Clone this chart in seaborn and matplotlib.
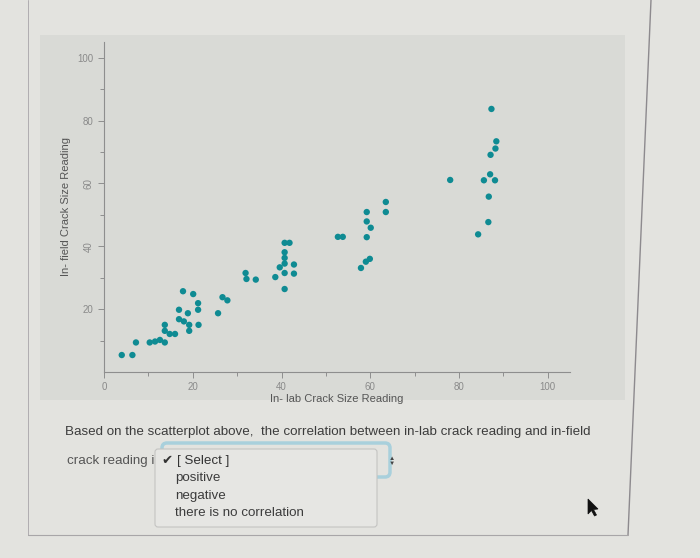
import numpy as np
import pandas as pd
import seaborn as sns
import matplotlib.pyplot as plt
from matplotlib.patches import Rectangle, FancyBboxPatch, Polygon

# In-lab vs in-field crack size readings
lab_reading = [4.0, 6.4, 7.2, 10.3, 11.5, 12.6, 13.7, 13.7, 13.7, 14.8, 16.0,
               16.9, 16.9, 17.8, 18.0, 18.9, 19.2, 19.2, 20.1, 21.2, 21.2, 21.3,
               25.7, 26.7, 27.8, 31.9, 32.1, 34.2, 38.6, 40.7, 41.8, 40.7, 40.7,
               40.7, 39.6, 42.8, 40.7, 42.8, 40.7, 52.7, 53.8, 63.5, 63.5, 59.2,
               59.2, 60.1, 59.2, 59.9, 59.0, 57.9, 87.3, 88.4, 88.2, 87.1, 87.0,
               85.6, 88.1, 78.0, 86.7, 86.6, 84.3]
field_reading = [5.4, 5.4, 9.4, 9.4, 9.7, 10.2, 9.4, 15.0, 13.1, 12.1, 12.1,
                 19.8, 16.8, 25.7, 16.1, 18.7, 15.0, 13.1, 24.8, 21.9, 19.8, 15.0,
                 18.7, 23.8, 22.8, 31.5, 29.6, 29.4, 30.2, 41.1, 41.1, 38.1, 36.3,
                 34.5, 33.3, 34.2, 31.5, 31.3, 26.4, 43.0, 43.0, 54.1, 50.9, 50.9,
                 47.9, 45.9, 42.9, 36.0, 35.1, 33.1, 83.7, 73.4, 71.1, 69.1, 62.9,
                 61.0, 61.0, 61.1, 55.8, 47.7, 43.8]

x_ticks = [0, 20, 40, 60, 80, 100]
y_ticks = [20, 40, 60, 80, 100]

question = "Based on the scatterplot above,  the correlation between in-lab crack reading and in-field"
options = ["positive", "negative", "there is no correlation"]

df = pd.DataFrame({"lab": lab_reading, "field": field_reading})

sns.set_style("ticks")
plt.rcParams['font.family'] = ['Liberation Sans', 'DejaVu Sans']

W, H = 700, 558
fig = plt.figure(figsize=(W / 100, H / 100), dpi=100, facecolor='#e3e3df')

# page background layer in pixel coordinates
bg = fig.add_axes([0, 0, 1, 1], zorder=0)
bg.set_xlim(0, W)
bg.set_ylim(H, 0)
bg.axis('off')
bg.add_patch(Rectangle((40, 35), 585, 365, facecolor='#d9dad6', edgecolor='none'))
bg.plot([651, 628], [0, 535], color='#8d8a8e', lw=1)
bg.plot([28, 28], [0, 535], color='#b0adb0', lw=0.7)
bg.plot([28, 628], [535, 535], color='#a8a6a8', lw=0.8)

text_col = '#3c3c3c'
fs = 9.6
bg.text(65, 432, question, fontsize=fs, color=text_col, va='center')
bg.text(67, 461, "crack reading i", fontsize=fs, color='#555555', va='center')

# dropdown: focus outline + open list
bg.add_patch(FancyBboxPatch((162, 443), 228, 34, boxstyle="round,pad=0,rounding_size=5",
                            facecolor='none', edgecolor='#a9d0dc', lw=2.5))
bg.add_patch(FancyBboxPatch((155, 449), 222, 78, boxstyle="round,pad=0,rounding_size=3",
                            facecolor='#e6e6e3', edgecolor='#c4c4c2', lw=0.8))
bg.text(162, 461, "\u2714 [ Select ]", fontsize=fs, color='#333333', va='center')
bg.text(392, 461, "\u25b2\n\u25bc", fontsize=4.5, color='#444444', va='center',
        ha='center', linespacing=0.8)
for i, opt in enumerate(options):
    bg.text(175, 478 + i * 17.5, opt, fontsize=fs, color=text_col, va='center')

# mouse pointer
bg.add_patch(Polygon([[588, 499], [588, 514], [591.5, 510.5], [594.5, 516],
                      [596.5, 515], [593.5, 509.5], [598, 509]],
                     closed=True, facecolor='#111111', edgecolor='#111111', lw=0.5))

# scatter plot
ax = fig.add_axes([104 / W, 1 - 372 / H, 466 / W, 330 / H], zorder=1)
ax.set_facecolor('none')
sns.scatterplot(data=df, x="lab", y="field", ax=ax, color='#0f8b93', s=21,
                edgecolor='none', linewidth=0)
ax.set_xlim(0, 105)
ax.set_ylim(0, 105)
sns.despine(ax=ax)
for sp in ['left', 'bottom']:
    ax.spines[sp].set_color('#8e8e8e')
    ax.spines[sp].set_linewidth(0.8)

ax.set_xticks(x_ticks)
ax.set_xticklabels([str(t) for t in x_ticks])
ax.set_yticks(y_ticks)
ax.set_yticklabels([str(t) for t in y_ticks])
ax.set_xticks(np.arange(10, 105, 20), minor=True)
ax.set_yticks(np.arange(10, 105, 20), minor=True)
ax.tick_params(which='both', colors='#8e8e8e', labelcolor='#8a8a8a', labelsize=7,
               width=0.7, direction='out')
ax.tick_params(which='major', length=4)
ax.tick_params(which='minor', length=3)
for lab in ax.get_yticklabels():
    if lab.get_text() in ('40', '60'):
        lab.set_rotation(90)
        lab.set_va('center')

ax.set_xlabel("In- lab Crack Size Reading", fontsize=8, color='#555555', labelpad=1)
ax.set_ylabel("In- field Crack Size Reading", fontsize=8, color='#555555', labelpad=5)

fig.savefig("out.png", dpi=100, facecolor=fig.get_facecolor())
